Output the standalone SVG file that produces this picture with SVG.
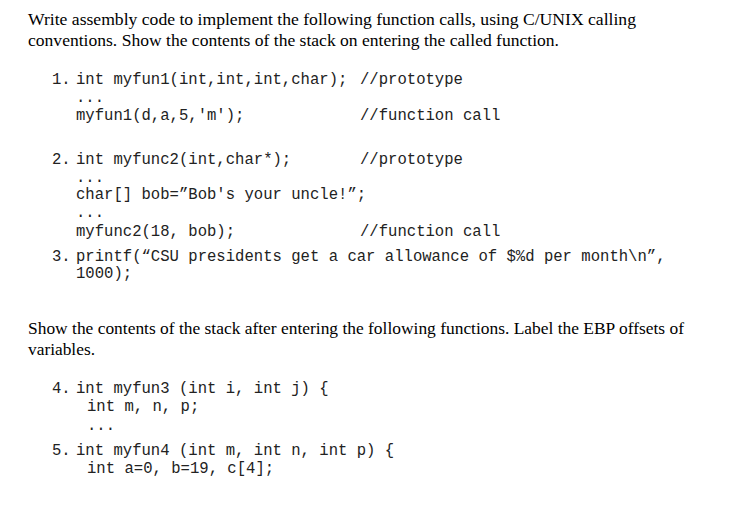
<svg xmlns="http://www.w3.org/2000/svg" width="734" height="522" viewBox="0 0 734 522">
<style>
.p{font-family:"Liberation Serif",serif;font-size:17.5px;fill:#000}
.c{font-family:"Liberation Mono",monospace;font-size:15.6px;fill:#222;white-space:pre}
</style>
<rect width="734" height="522" fill="#fff"/>
<g id="intro">
<text class="p" x="28" y="25" textLength="608" lengthAdjust="spacingAndGlyphs">Write assembly code to implement the following function calls, using C/UNIX calling</text>
<text class="p" x="28" y="46" textLength="531" lengthAdjust="spacingAndGlyphs">conventions. Show the contents of the stack on entering the called function.</text>
</g>
<g id="q1">
<text class="c" x="52" y="84">1.</text>
<text class="c" x="76" y="84">int myfun1(int,int,int,char);</text>
<text class="c" x="360" y="84">//prototype</text>
<text class="c" x="76" y="102">...</text>
<text class="c" x="76" y="120">myfun1(d,a,5,'m');</text>
<text class="c" x="360" y="120">//function call</text>
</g>
<g id="q2">
<text class="c" x="52" y="164">2.</text>
<text class="c" x="76" y="164">int myfunc2(int,char*);</text>
<text class="c" x="360" y="164">//prototype</text>
<text class="c" x="76" y="182">...</text>
<text class="c" x="76" y="199">char[] bob=”Bob's your uncle!”;</text>
<text class="c" x="76" y="217">...</text>
<text class="c" x="76" y="236">myfunc2(18, bob);</text>
<text class="c" x="360" y="236">//function call</text>
</g>
<g id="q3">
<text class="c" x="52" y="261">3.</text>
<text class="c" x="76" y="261">printf(“CSU presidents get a car allowance of $%d per month\n”,</text>
<text class="c" x="76" y="278">1000);</text>
</g>
<g id="para2">
<text class="p" x="28" y="334" textLength="656" lengthAdjust="spacingAndGlyphs">Show the contents of the stack after entering the following functions. Label the EBP offsets of</text>
<text class="p" x="28" y="355" textLength="67" lengthAdjust="spacingAndGlyphs">variables.</text>
</g>
<g id="q4">
<text class="c" x="52" y="393">4.</text>
<text class="c" x="76" y="393">int myfun3 (int i, int j) {</text>
<text class="c" x="87" y="411">int m, n, p;</text>
<text class="c" x="87" y="430">...</text>
</g>
<g id="q5">
<text class="c" x="52" y="455">5.</text>
<text class="c" x="76" y="455">int myfun4 (int m, int n, int p) {</text>
<text class="c" x="87" y="473">int a=0, b=19, c[4];</text>
</g>
</svg>
